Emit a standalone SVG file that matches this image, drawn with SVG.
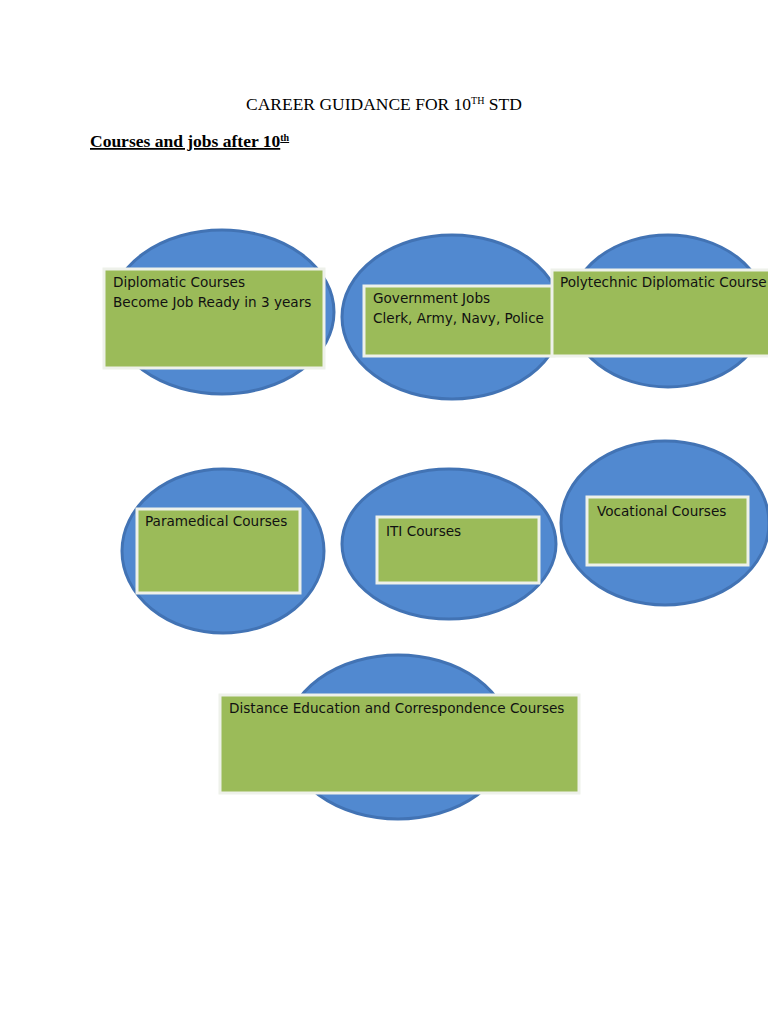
<svg xmlns="http://www.w3.org/2000/svg" width="768" height="1024" viewBox="0 0 768 1024">
<style>
.e{fill:#5189d0;stroke:#4273b4;stroke-width:3}
.r{fill:#9bbb59;stroke:#eef1ea;stroke-width:3}
.t{font-family:"DejaVu Sans",sans-serif;font-size:13.6px;fill:#111}
.h{font-family:"Liberation Serif",serif;font-size:17.5px;fill:#000}
</style>
<rect width="768" height="1024" fill="#fff"/>
<text class="h" x="246" y="110">CAREER GUIDANCE FOR 10<tspan font-size="10" dy="-6">TH</tspan><tspan dy="6"> STD</tspan></text>
<text class="h" x="90" y="147" font-weight="bold" text-decoration="underline">Courses and jobs after 10<tspan font-size="10" dy="-6">th</tspan></text>
<g id="n1"><ellipse class="e" cx="222" cy="312" rx="112" ry="82"/><rect class="r" x="104" y="269" width="220" height="99"/><text class="t" x="113" y="287">Diplomatic Courses</text><text class="t" x="113" y="307">Become Job Ready in 3 years</text></g>
<g id="n2"><ellipse class="e" cx="452" cy="317" rx="110" ry="82"/><rect class="r" x="364" y="286" width="190" height="70"/><text class="t" x="373" y="303">Government Jobs</text><text class="t" x="373" y="323">Clerk, Army, Navy, Police</text></g>
<g id="n3"><ellipse class="e" cx="668" cy="311" rx="98" ry="76"/><rect class="r" x="552" y="270" width="220" height="86"/><text class="t" x="560" y="287">Polytechnic Diplomatic Course</text></g>
<g id="n4"><ellipse class="e" cx="223" cy="551" rx="101" ry="82"/><rect class="r" x="137" y="509" width="163" height="84"/><text class="t" x="145" y="526">Paramedical Courses</text></g>
<g id="n5"><ellipse class="e" cx="449" cy="544" rx="107" ry="75"/><rect class="r" x="377" y="517" width="162" height="66"/><text class="t" x="386" y="536">ITI Courses</text></g>
<g id="n6"><ellipse class="e" cx="665" cy="523" rx="104" ry="82"/><rect class="r" x="587" y="497" width="161" height="68"/><text class="t" x="597" y="516">Vocational Courses</text></g>
<g id="n7"><ellipse class="e" cx="398" cy="737" rx="112" ry="82"/><rect class="r" x="220" y="695" width="359" height="98"/><text class="t" x="229" y="713">Distance Education and Correspondence Courses</text></g>
<g id="connectors"/>
</svg>
